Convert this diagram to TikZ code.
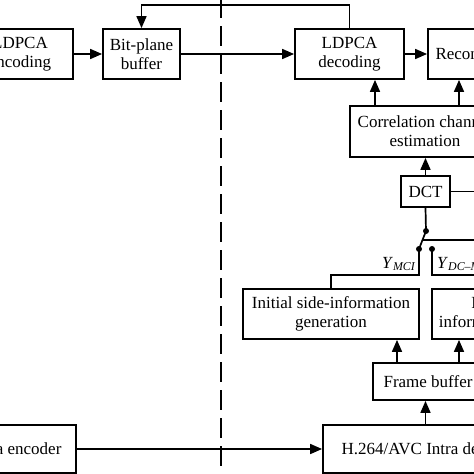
\documentclass[tikz,border=0pt]{standalone}
\usepackage{fontspec}
\setmainfont{Liberation Serif}
\usetikzlibrary{arrows.meta}
\begin{document}
\begin{tikzpicture}
        [x=1pt, y=-1pt,
        block/.style={draw, line width=1.8pt, align=center, inner sep=0pt, font=\fontsize{17}{19}\selectfont},
        link/.style={line width=1.7pt},
        arr/.style={line width=1.7pt, -{Triangle[length=12pt,width=10pt]}},
        dot/.style={circle, fill, inner sep=0pt, minimum size=6pt},
        lbl/.style={inner sep=0pt, font=\fontsize{17}{19}\selectfont}]

        \clip (0,0) rectangle (474,474);

        % Helper columns for the vertical arrows
        \coordinate (c1) at (375,0);
        \coordinate (c2) at (459,0);
        \coordinate (c3) at (397,0);
        \coordinate (rgt) at (490,0);
        \coordinate (swmid) at (422.5,240);
        \coordinate (divtop) at (221,-2);
        \coordinate (divbot) at (221,476);

        % Encoder side
        \node[block, minimum width=106, minimum height=50] (enc) at (20,54) {LDPCA\\encoding};
        \node[block, minimum width=77, minimum height=50] (buf) at (141.5,54) {Bit-plane\\buffer};
        \node[block, minimum width=204, minimum height=48] (intenc) at (-26,449) {H.264/AVC Intra encoder};

        % Decoder side
        \node[block, minimum width=109, minimum height=50] (dec) at (349.5,54) {LDPCA\\decoding};
        \node[block, minimum width=118, minimum height=50] (rec) at (487,54) {Reconstruction};
        \node[block, minimum width=150, minimum height=51] (cce) at (425,131.5) {Correlation channel\\estimation};
        \node[block, minimum width=49, minimum height=31] (dct) at (425.5,191.5) {DCT};
        \node[block, minimum width=176, minimum height=50] (isg) at (331,314) {Initial side-information\\generation};
        \node[block, minimum width=170, minimum height=50] (rsg) at (517,314) {Refined side-\\information generation};
        \node[block, minimum width=110, minimum height=37] (fbuf) at (428,381.5) {Frame buffer};
        \node[block, minimum width=212, minimum height=48] (intdec) at (429,449) {H.264/AVC Intra decoder};

        % Switch
        \node[dot] (swin) at (426,231) {};
        \node[dot] (swa) at (419,249) {};
        \node[dot] (swb) at (432,249) {};
        \node[lbl, anchor=base east] (ymci) at (416,268) {\textit{Y}\textsubscript{\textit{MCI}}};
        \node[lbl, anchor=base west] (ydc) at (437,268) {\textit{Y}\textsubscript{\textit{DC--MCI}}};

        % Divider between encoder and decoder
        \draw[link, dash pattern=on 20pt off 8pt] (divtop) -- (divbot);

        % Wyner-Ziv path
        \draw[arr] (enc) -- (buf);
        \draw[arr] (buf) -- (dec);
        \draw[arr] (dec) -- (rec);
        \draw[arr] (dec.north) -- ++(0,-23) -| (buf.north);
        \draw[arr] (cce.north -| c1) -- (dec.south -| c1);
        \draw[arr] (cce.north -| c2) -- (rec.south -| c2);
        \draw[arr] (dct.north) -- (dct.north |- cce.south);
        \draw[link] (dct.east) -- (dct.east -| rgt);

        % Side information and switch
        \draw[link] (dct.south) -- (swin.center);
        \draw[link] (swin.center) -- (swa.center);
        \draw[link] (swmid) -- (swmid -| rgt);
        \draw[link] (swa.center) -- ++(0,26) -| (isg.north);
        \draw[link] (swb.center) -- ++(0,26) -| (rsg.north);
        \draw[arr] (fbuf.north -| c3) -- (isg.south -| c3);
        \draw[arr] (fbuf.north -| c2) -- (rsg.south -| c2);

        % Key frames
        \draw[arr] (intenc) -- (intdec);
        \draw[arr] (intdec.north -| dct.south) -- (fbuf.south -| dct.south);

\end{tikzpicture}
\end{document}
